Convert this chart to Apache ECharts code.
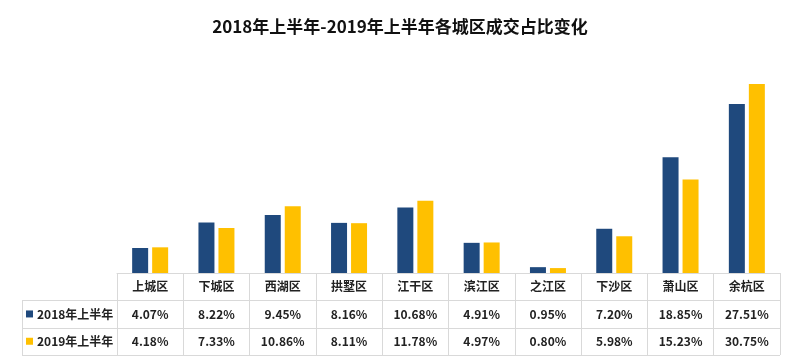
<!DOCTYPE html>
<html><head><meta charset="utf-8">
<script src="https://cdn.jsdelivr.net/npm/echarts@6/dist/echarts.min.js"></script>
<style>html,body{margin:0;padding:0;background:#fff}#c{width:800px;height:362px}</style>
</head><body><div id="c"></div>
<script>
const titleText = '2018年上半年-2019年上半年各城区成交占比变化';
const categories = ['上城区','下城区','西湖区','拱墅区','江干区','滨江区','之江区','下沙区','萧山区','余杭区'];
const seriesNames = ['2018年上半年','2019年上半年'];
const values2018 = [4.07, 8.22, 9.45, 8.16, 10.68, 4.91, 0.95, 7.20, 18.85, 27.51];
const values2019 = [4.18, 7.33, 10.86, 8.11, 11.78, 4.97, 0.80, 5.98, 15.23, 30.75];

const FONT = '"Noto Sans CJK SC", "Noto Sans", sans-serif';
const L = 117, R = 780, BASE = 273, ROW = 27.3;
const lineColor = '#d9d9d9';
const chart = echarts.init(document.getElementById('c'));
const graphics = [];
[1,2,3].forEach(i => {
  const y = Math.round(BASE + ROW * i) + 0.5;
  graphics.push({type:'line', shape:{x1:22, y1:y, x2:R, y2:y}, style:{stroke:lineColor, lineWidth:1}, silent:true});
});
graphics.push({type:'line', shape:{x1:22.5, y1:Math.round(BASE+ROW)+0.5, x2:22.5, y2:Math.round(BASE+ROW*3)+0.5}, style:{stroke:lineColor, lineWidth:1}, silent:true});

chart.setOption({
  animation:false,
  backgroundColor:'#fff',
  title:{text:titleText, left:'center', top:13, textStyle:{fontFamily:FONT, fontSize:17, fontWeight:'bold', color:'#111'}},
  legend:{orient:'vertical', left:26, top:BASE+ROW, height:80, padding:0, itemGap:0, itemWidth:7, itemHeight:7, icon:'rect',
    data:seriesNames,
    textStyle:{fontFamily:FONT, fontSize:12, fontWeight:'bold', color:'#222', lineHeight:ROW, padding:[0,0,0,-1]}},
  grid:{left:L, right:800-R, top:58, bottom:362-BASE},
  xAxis:{type:'category', data:categories,
    axisLine:{lineStyle:{color:lineColor}},
    axisTick:{show:true, length:Math.round(ROW*3), lineStyle:{color:lineColor}},
    axisLabel:{interval:0, margin:0,
      formatter:(v, i) => `{n|${v}}\n{v|${values2018[i].toFixed(2)}%}\n{v|${values2019[i].toFixed(2)}%}`,
      rich:{
        n:{fontFamily:FONT, fontSize:12, fontWeight:'bold', color:'#222', lineHeight:ROW},
        v:{fontFamily:FONT, fontSize:12, fontWeight:'bold', color:'#222', lineHeight:ROW}
      }}},
  yAxis:{type:'value', min:0, max:35, show:false, splitLine:{show:false}},
  series:[
    {name:seriesNames[0], type:'bar', data:values2018, barWidth:16, barGap:'25%', itemStyle:{color:'#1F497D'}},
    {name:seriesNames[1], type:'bar', data:values2019, barWidth:16, itemStyle:{color:'#FFC000'}}
  ],
  graphic:graphics
});
</script></body></html>
